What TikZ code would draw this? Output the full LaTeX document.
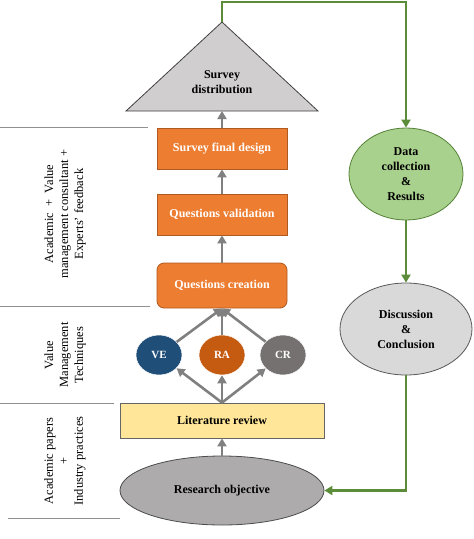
\documentclass[tikz,border=0pt]{standalone}
\usepackage{fontspec}
\setmainfont{Liberation Serif}
\usetikzlibrary{arrows.meta,shapes.geometric}
\definecolor{orangefill}{HTML}{ED7D31}
\definecolor{orangeline}{HTML}{AE5A21}
\definecolor{veblue}{HTML}{1F4E79}
\definecolor{raorange}{HTML}{C55A11}
\definecolor{crgray}{HTML}{767171}
\definecolor{litfill}{HTML}{FFE699}
\definecolor{rofill}{HTML}{ADABAB}
\definecolor{trifill}{HTML}{D0CECE}
\definecolor{dcfill}{HTML}{A9D18E}
\definecolor{dcline}{HTML}{538135}
\definecolor{disfill}{HTML}{D9D9D9}
\definecolor{gline}{HTML}{5B8C3A}
\definecolor{arrowgray}{HTML}{808080}
\definecolor{sepgray}{HTML}{909090}
\begin{document}
\begin{tikzpicture}[x=1pt,y=-1pt,
  bold/.style={font=\bfseries\fontsize{12}{15}\selectfont, align=center},
  obox/.style={bold, draw=orangeline, fill=orangefill, text=white, line width=0.8pt,
    minimum width=130pt, minimum height=41pt, inner sep=0pt},
  tech/.style={ellipse, draw=white, line width=0.5pt, text=white, inner sep=0pt,
    font=\bfseries\fontsize{11}{12}\selectfont, minimum width=46pt, minimum height=40pt},
  garrow/.style={draw=arrowgray, line width=2.6pt, -{Triangle[length=8pt,width=9pt]}},
  grarrow/.style={draw=gline, line width=2.6pt, -{Triangle[length=8pt,width=9pt]}},
  sep/.style={draw=sepgray, line width=0.8pt},
  side/.style={align=center, rotate=90, inner sep=0pt, font=\fontsize{12.5}{15}\selectfont}
]
\useasboundingbox (0,0) rectangle (474,539);

% triangle
\draw[fill=trifill, draw=black!75, line width=0.8pt] (222,22) -- (318,111) -- (126,111) -- cycle;
\node[bold] (sd) at (222,82) {Survey\\distribution};
\coordinate (apex) at (222,22);
\coordinate (tbase) at (222,111);

% orange boxes
\node[obox] (sfd) at (222,148.5) {Survey final design};
\node[obox] (qv) at (222,214.5) {Questions validation};
\node[obox, rounded corners=7pt, minimum height=45pt] (qc) at (222,285.5) {Questions creation};

% techniques
\node[tech, fill=veblue] (ve) at (159,355) {VE};
\node[tech, fill=raorange] (ra) at (222,355) {RA};
\node[tech, fill=crgray] (cr) at (283,355) {CR};

% literature review
\node[bold, draw=black!60, fill=litfill, line width=0.8pt, minimum width=204pt, minimum height=35pt, inner sep=0pt] (lr) at (222,420.5) {Literature review};

% research objective
\node[bold, ellipse, draw=black!70, fill=rofill, line width=0.8pt, minimum width=204pt, minimum height=69pt, inner sep=0pt] (ro) at (222,490.5) {Research objective};

% right column
\node[bold, ellipse, draw=dcline, fill=dcfill, line width=0.8pt, minimum width=114pt, minimum height=92pt, inner sep=0pt] (dc) at (406,174) {Data\\collection\\\&\\Results};
\node[bold, ellipse, draw=black!65, fill=disfill, line width=0.8pt, minimum width=132pt, minimum height=92pt, inner sep=0pt] (dis) at (406,329) {Discussion\\\&\\Conclusion};

% gray arrows
\draw[garrow] (sfd.north) -- (tbase);
\draw[garrow] (qv.north) -- (sfd.south);
\draw[garrow] (qc.north) -- (qv.south);
\draw[garrow] (ve) -- (qc.south);
\draw[garrow] (ra.north) -- (qc.south);
\draw[garrow] (cr) -- (qc.south);
\draw[garrow] (lr.north) -- (ve);
\draw[garrow] (lr.north) -- (ra.south);
\draw[garrow] (lr.north) -- (cr);
\draw[garrow] (ro.north) -- (lr.south);

% green arrows
\draw[grarrow] (apex) -- ++(0,-20) -| (dc.north);
\draw[grarrow] (dc.south) -- (dis.north);
\draw[grarrow] (dis.south) |- (ro.east);

% separators
\draw[sep] (0,127) -- (148,127);
\draw[sep] (0,306) -- (150,306);
\draw[sep] (0,403) -- (114,403);
\draw[sep] (8,518) -- (120,518);

% side labels
\node[side] (l1) at (65,214) {Academic ~+~ Value\\management consultant +\\Experts’ feedback};
\node[side] (l2) at (65,355) {Value\\Management\\Techniques};
\node[side] (l3) at (65,461) {Academic papers\\+\\Industry practices};
\end{tikzpicture}
\end{document}
